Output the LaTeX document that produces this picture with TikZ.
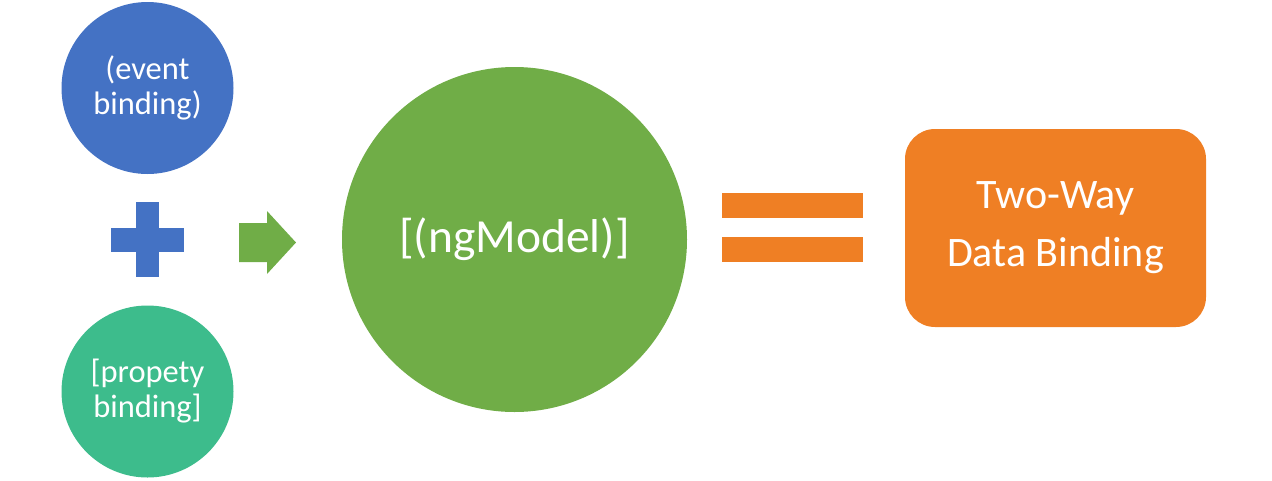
\documentclass[tikz,border=0pt]{standalone}
\usepackage{fontspec}
\setmainfont{Carlito}
\definecolor{cblue}{HTML}{4472C4}
\definecolor{cteal}{HTML}{3DBC8C}
\definecolor{cgreen}{HTML}{70AD47}
\definecolor{corange}{HTML}{EF7F24}
\begin{document}
\begin{tikzpicture}[x=1pt,y=-1pt,
  smallcirc/.style={circle,inner sep=0pt,minimum size=172pt,text=white,align=center,
    font=\fontsize{32.5}{35}\selectfont},
  bigcirc/.style={circle,inner sep=0pt,minimum size=345pt,fill=cgreen,text=white,
    font=\fontsize{47.5}{54}\selectfont},
  resultbox/.style={rectangle,rounded corners=30pt,inner sep=0pt,minimum width=301pt,
    minimum height=198pt,fill=corange,text=white,align=center,
    font=\fontsize{42}{58}\selectfont}]
\useasboundingbox (0,0) rectangle (1272,480);
\node[smallcirc,fill=cblue] (event) at (147.5,88) {(event\\binding)};
\node[smallcirc,fill=cteal] (prop) at (147.5,391.5) {[propety\\binding]};
% plus sign
\fill[cblue] (136,202) rectangle (159,277);
\fill[cblue] (111,228) rectangle (184,252);
% arrow
\fill[cgreen] (239,223) -- (267,223) -- (267,211) -- (296,242.5) -- (267,274) -- (267,262) -- (239,262) -- cycle;
\node[bigcirc] (ngmodel) at (514.5,239.5) {[(ngModel)]};
% equals sign
\fill[corange] (722,193) rectangle (863,218);
\fill[corange] (722,237) rectangle (863,262);
\node[resultbox] (twoway) at (1055.5,228) {Two-Way\\Data Binding};
\end{tikzpicture}
\end{document}
